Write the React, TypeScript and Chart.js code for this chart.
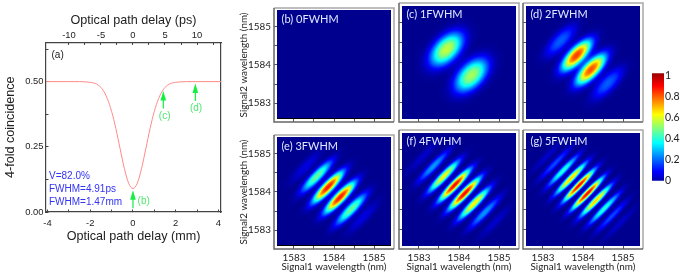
import React, { useEffect, useRef } from "react";
import { Chart, registerables } from "chart.js";
Chart.register(...registerables);

// ---------- panel (a) data ----------
const delayMm = [-4.1, -3, -2.5, -2.2, -2, -1.8, -1.6, -1.4, -1.2, -1, -0.8, -0.6, -0.4, -0.2, 0, 0.2, 0.4, 0.6, 0.8, 1, 1.2, 1.4, 1.6, 1.8, 2, 2.2, 2.5, 3, 4.15];
const coincidence = [0.5, 0.5, 0.5, 0.499, 0.497, 0.494, 0.485, 0.467, 0.435, 0.386, 0.32, 0.242, 0.166, 0.11, 0.09, 0.11, 0.166, 0.242, 0.32, 0.386, 0.435, 0.467, 0.485, 0.494, 0.497, 0.499, 0.5, 0.5, 0.5];
const arrowMm = [0, 1.42, 2.92];
const arrowTip = [0.083, 0.464, 0.493];
const arrowTail = [0.014, 0.397, 0.426];
const arrowNames = ["(b)", "(c)", "(d)"];
const statLines = ["V=82.0%", "FWHM=4.91ps", "FWHM=1.47mm"];

// ---------- panel (b)-(g) data: lobes: [signal1 nm, signal2 nm, peak] ----------
const lobesB: number[][] = [];
const lobesC = [[1583.69, 1584.33, 0.55], [1584.31, 1583.68, 0.52]];
const lobesD = [[1583.84, 1584.18, 0.8], [1584.2, 1583.825, 0.78], [1583.44, 1584.54, 0.2], [1584.62, 1583.48, 0.2]];
const lobesE = [[1583.85, 1584.13, 0.84], [1584.15, 1583.86, 0.84], [1583.57, 1584.41, 0.46], [1584.43, 1583.55, 0.46], [1583.3, 1584.67, 0.08], [1584.72, 1583.33, 0.08]];
const lobesF = [[1583.89, 1584.11, 0.86], [1584.14, 1583.9, 0.86], [1583.62, 1584.33, 0.6], [1584.38, 1583.65, 0.62], [1583.36, 1584.58, 0.26], [1584.64, 1583.42, 0.26], [1583.1, 1584.82, 0.06], [1584.9, 1583.18, 0.06]];
const lobesG = [[1583.9, 1584.1, 0.86], [1584.11, 1583.9, 0.86], [1583.7, 1584.28, 0.66], [1584.32, 1583.72, 0.66], [1583.5, 1584.47, 0.4], [1584.53, 1583.52, 0.4], [1583.3, 1584.65, 0.18], [1584.72, 1583.33, 0.18], [1583.1, 1584.83, 0.06], [1584.92, 1583.15, 0.06]];

const wavelengthTicks = [1583, 1583.5, 1584, 1584.5, 1585];
const colorbarTicks = [0, 0.2, 0.4, 0.6, 0.8, 1];
const colorbarStops = [[0, "#00008f"], [0.11, "#0000ff"], [0.36, "#00ffff"], [0.61, "#ffff00"], [0.86, "#ff0000"], [1, "#800000"]];

const panels = [
  { name: "(b) 0FWHM", lobes: lobesB, left: 277, top: 6, su: 0.3, sv: 0.12, xT: false, yT: true },
  { name: "(c) 1FWHM", lobes: lobesC, left: 402, top: 6, su: 0.35, sv: 0.2, xT: false, yT: false },
  { name: "(d) 2FWHM", lobes: lobesD, left: 526, top: 6, su: 0.34, sv: 0.13, xT: false, yT: false },
  { name: "(e) 3FWHM", lobes: lobesE, left: 277, top: 133, su: 0.36, sv: 0.086, xT: true, yT: true },
  { name: "(f) 4FWHM", lobes: lobesF, left: 402, top: 133, su: 0.37, sv: 0.068, xT: true, yT: false },
  { name: "(g) 5FWHM", lobes: lobesG, left: 526, top: 133, su: 0.37, sv: 0.054, xT: true, yT: false },
];

const PLOT_W = 114, PLOT_H = 113, PAD_L = 46, PAD_T = 4, PAD_R = 4, PAD_B = 29;
const PX_PER_NM = 40;
const LABEL_FONT = "Lato";
const ARIAL = "'Liberation Sans'";

function jet(v: number): [number, number, number] {
  const stops: [number, number, number, number][] = [
    [0, 0, 0, 143], [0.11, 0, 0, 255], [0.36, 0, 255, 255], [0.61, 255, 255, 0], [0.86, 255, 0, 0], [1, 128, 0, 0],
  ];
  for (let i = 1; i < stops.length; i++) {
    if (v <= stops[i][0]) {
      const a = stops[i - 1], b = stops[i], t = (v - a[0]) / (b[0] - a[0]);
      return [a[1] + (b[1] - a[1]) * t, a[2] + (b[2] - a[2]) * t, a[3] + (b[3] - a[3]) * t];
    }
  }
  return [128, 0, 0];
}
const LUT = Array.from({ length: 256 }, (_, i) => jet(i / 255));

function lobeSprite(peak: number, su: number, sv: number) {
  const size = Math.ceil(Math.max(su, sv) * PX_PER_NM * 8) | 1;
  const c = document.createElement("canvas");
  c.width = c.height = size;
  const g = c.getContext("2d")!;
  const img = g.createImageData(size, size);
  const ang = (46 * Math.PI) / 180;
  const cx = (size - 1) / 2;
  const ca = Math.cos(ang), sa = Math.sin(ang);
  for (let j = 0; j < size; j++) {
    for (let i = 0; i < size; i++) {
      const dx = (i - cx) / PX_PER_NM, dy = (cx - j) / PX_PER_NM;
      const u = dx * ca + dy * sa, w = -dx * sa + dy * ca;
      const val = 255 * peak * Math.exp(-Math.pow((u * u) / (2 * su * su) + (w * w) / (2 * sv * sv), 1.2));
      const k = (i + j * size) * 4;
      img.data[k] = img.data[k + 1] = img.data[k + 2] = val;
      img.data[k + 3] = 255;
    }
  }
  g.putImageData(img, 0, 0);
  return c;
}

const heatPlugin = {
  id: "heat",
  beforeDatasetsDraw(chart: any) {
    const { ctx, chartArea: a } = chart;
    ctx.save();
    ctx.fillStyle = "#000";
    ctx.fillRect(a.left, a.top, a.width, a.height);
    ctx.restore();
    ctx.globalCompositeOperation = "lighter";
  },
  afterDatasetsDraw(chart: any) {
    const { ctx, chartArea: a } = chart;
    ctx.globalCompositeOperation = "source-over";
    const img = ctx.getImageData(a.left, a.top, a.width, a.height);
    for (let k = 0; k < img.data.length; k += 4) {
      const c = LUT[img.data[k]];
      img.data[k] = c[0];
      img.data[k + 1] = c[1];
      img.data[k + 2] = c[2];
      img.data[k + 3] = 255;
    }
    ctx.putImageData(img, a.left, a.top);
  },
  afterDraw(chart: any, _args: any, opts: any) {
    const { ctx, chartArea: a } = chart;
    ctx.save();
    ctx.fillStyle = "#dfe8ff";
    ctx.font = `11px ${LABEL_FONT}`;
    ctx.textBaseline = "middle";
    ctx.fillText(opts.name, a.left + 4.5, a.top + 8.5);
    // frame
    const l = a.left - 3, r = a.right + 3, t = a.top - 3, b = a.bottom + 3;
    ctx.lineWidth = 1.5;
    ctx.strokeStyle = "#a8a8a8";
    ctx.beginPath(); ctx.moveTo(l, t); ctx.lineTo(r, t); ctx.lineTo(r, b); ctx.stroke();
    ctx.strokeStyle = "#666";
    ctx.beginPath(); ctx.moveTo(l, t); ctx.lineTo(l, b); ctx.lineTo(r, b); ctx.stroke();
    ctx.restore();
  },
};

function makeHeat(canvas: HTMLCanvasElement, p: (typeof panels)[number]) {
  return new Chart(canvas, {
    type: "scatter",
    data: {
      datasets: [{
        data: p.lobes.map((l) => ({ x: l[0], y: l[1] })),
        pointStyle: p.lobes.map((l) => lobeSprite(l[2], p.su, p.sv)) as any,
        pointRadius: 5,
      }],
    },
    options: {
      responsive: false,
      animation: false,
      events: [],
      layout: { autoPadding: false, padding: { top: PAD_T, right: PAD_R } },
      plugins: { legend: { display: false }, tooltip: { enabled: false }, heat: { name: p.name } } as any,
      scales: {
        x: {
          type: "linear",
          min: 1584 - PLOT_W / 2 / PX_PER_NM,
          max: 1584 + PLOT_W / 2 / PX_PER_NM,
          afterBuildTicks: (s: any) => { s.ticks = wavelengthTicks.map((value) => ({ value })); },
          afterFit: (s: any) => { s.height = PAD_B; },
          border: { display: false },
          grid: { drawOnChartArea: false, drawTicks: true, tickLength: 3, color: "#555", lineWidth: 1 },
          ticks: {
            display: p.xT, maxRotation: 0, autoSkip: false, padding: 2.5, color: "#222",
            font: { family: LABEL_FONT, size: 9.9 },
            callback: (v: any) => (Number.isInteger(v) ? String(v) : ""),
          },
          title: { display: p.xT, text: "Signal1 wavelength (nm)", color: "#222", font: { family: LABEL_FONT, size: 9.9 }, padding: { top: 0, bottom: 2.3 } },
        },
        y: {
          type: "linear",
          min: 1584 - PLOT_H / 2 / PX_PER_NM,
          max: 1584 + PLOT_H / 2 / PX_PER_NM,
          afterBuildTicks: (s: any) => { s.ticks = wavelengthTicks.map((value) => ({ value })); },
          afterFit: (s: any) => { s.width = PAD_L; },
          border: { display: false },
          grid: { drawOnChartArea: false, drawTicks: true, tickLength: 3, color: "#555", lineWidth: 1 },
          ticks: {
            display: p.yT, autoSkip: false, padding: 3, color: "#222",
            font: { family: LABEL_FONT, size: 9.9 },
            callback: (v: any) => (Number.isInteger(v) ? String(v) : ""),
          },
          title: { display: p.yT, text: "Signal2 wavelength (nm)", color: "#222", font: { family: LABEL_FONT, size: 9.9 }, padding: { top: 7, bottom: 0 } },
        },
      },
    } as any,
    plugins: [heatPlugin as any],
  });
}

const annotatePlugin = {
  id: "annotate",
  afterDatasetsDraw(chart: any) {
    const { ctx } = chart;
    const x = chart.scales.x, y = chart.scales.y;
    ctx.save();
    ctx.strokeStyle = "#10f040";
    ctx.fillStyle = "#10f040";
    ctx.lineWidth = 1.2;
    arrowMm.forEach((m, i) => {
      const px = x.getPixelForValue(m);
      const tip = y.getPixelForValue(arrowTip[i]);
      const tail = y.getPixelForValue(arrowTail[i]);
      ctx.beginPath(); ctx.moveTo(px, tail); ctx.lineTo(px, tip + 6); ctx.stroke();
      ctx.beginPath(); ctx.moveTo(px, tip); ctx.lineTo(px - 2.8, tip + 9.5); ctx.lineTo(px + 2.8, tip + 9.5); ctx.closePath(); ctx.fill();
    });
    ctx.font = `10px ${ARIAL}`;
    ctx.fillStyle = "#4fe870";
    ctx.textBaseline = "middle";
    ctx.textAlign = "center";
    ctx.fillText(arrowNames[0], 143.7, 201);
    ctx.fillText(arrowNames[1], 164.7, 116.7);
    ctx.fillText(arrowNames[2], 196, 108.5);
    ctx.fillStyle = "#1a1a1a";
    ctx.font = `10px ${ARIAL}`;
    ctx.textAlign = "left";
    ctx.fillText("(a)", 51.5, 55.5);
    ctx.fillStyle = "#3333f5";
    ctx.font = `10px ${ARIAL}`;
    [176.7, 189.7, 202].forEach((py, i) => ctx.fillText(statLines[i], 49, py));
    ctx.restore();
  },
};

function makeLine(canvas: HTMLCanvasElement) {
  const tickFont = { family: ARIAL, size: 9.4 };
  const titleFont = { family: ARIAL, size: 12.6 };
  return new Chart(canvas, {
    type: "line",
    data: {
      datasets: [{
        data: delayMm.map((x, i) => ({ x, y: coincidence[i] })),
        borderColor: "#ff8a8a",
        borderWidth: 1,
        pointRadius: 0,
        cubicInterpolationMode: "monotone",
        xAxisID: "x",
        yAxisID: "y",
      }],
    },
    options: {
      responsive: false,
      animation: false,
      events: [],
      layout: { autoPadding: false, padding: { right: 19 } },
      plugins: { legend: { display: false }, tooltip: { enabled: false } },
      scales: {
        x: {
          type: "linear", position: "bottom", min: -4.07, max: 4.12,
          afterBuildTicks: (s: any) => { s.ticks = [-4, -3, -2, -1, 0, 1, 2, 3, 4].map((value) => ({ value })); },
          afterFit: (s: any) => { s.height = 63; },
          border: { display: true, color: "#444", width: 1.2 },
          grid: { drawOnChartArea: false, tickLength: -2.5, color: "#444" },
          ticks: { color: "#222", font: tickFont, padding: 8, maxRotation: 0, autoSkip: false, callback: (v: any) => (v % 2 === 0 ? String(v) : "") },
          title: { display: true, text: "Optical path delay (mm)", color: "#222", font: titleFont, padding: { top: 0, bottom: 30.5 } },
        },
        x2: {
          type: "linear", position: "top", min: -4.07 * 3.336, max: 4.12 * 3.336,
          afterBuildTicks: (s: any) => { s.ticks = [-10, -7.5, -5, -2.5, 0, 2.5, 5, 7.5, 10, 12.5].map((value) => ({ value })); },
          afterFit: (s: any) => { s.height = 42.5; },
          border: { display: true, color: "#444", width: 1.2 },
          grid: { drawOnChartArea: false, tickLength: -2.5, color: "#444" },
          ticks: { color: "#222", font: tickFont, padding: 4, maxRotation: 0, autoSkip: false, callback: (v: any) => (v % 5 === 0 ? String(v) : "") },
          title: { display: true, text: "Optical path delay (ps)", color: "#222", font: titleFont, padding: { top: 12.5, bottom: 0 } },
        },
        y: {
          type: "linear", position: "left", min: 0, max: 0.65,
          afterBuildTicks: (s: any) => { s.ticks = [0, 0.125, 0.25, 0.375, 0.5, 0.625].map((value) => ({ value })); },
          afterFit: (s: any) => { s.width = 46; },
          border: { display: true, color: "#444", width: 1.2 },
          grid: { drawOnChartArea: false, tickLength: -2.5, color: "#444" },
          ticks: { color: "#222", font: tickFont, padding: 5, autoSkip: false, callback: (v: any) => ([0, 0.25, 0.5].includes(v) ? v.toFixed(2) : "") },
          title: { display: true, text: "4-fold coincidence", color: "#222", font: titleFont, padding: { top: 3.2, bottom: 0 } },
        },
        y2: {
          type: "linear", position: "right", min: 0, max: 0.65,
          afterFit: (s: any) => { s.width = 0; },
          border: { display: true, color: "#444", width: 1.2 },
          grid: { display: false },
          ticks: { display: false },
        },
      },
    } as any,
    plugins: [annotatePlugin as any],
  });
}

function makeColorbar(canvas: HTMLCanvasElement) {
  const g = canvas.getContext("2d")!;
  const grad = g.createLinearGradient(0, 118, 0, 4);
  colorbarStops.forEach(([o, c]) => grad.addColorStop(o as number, c as string));
  return new Chart(canvas, {
    type: "bar",
    data: {
      labels: ["z"],
      datasets: [{ data: [[0, 1.02]] as any, backgroundColor: grad, barPercentage: 1, categoryPercentage: 1 }],
    },
    options: {
      responsive: false,
      animation: false,
      events: [],
      layout: { autoPadding: false, padding: { top: 4, bottom: 4 } },
      plugins: { legend: { display: false }, tooltip: { enabled: false } },
      scales: {
        x: { display: false },
        y: {
          position: "right", min: 0, max: 1.02,
          afterBuildTicks: (s: any) => { s.ticks = colorbarTicks.map((value) => ({ value })); },
          afterFit: (s: any) => { s.width = 18; },
          border: { display: false },
          grid: { display: false, drawTicks: false },
          ticks: { color: "#222", font: { family: LABEL_FONT, size: 10.5 }, padding: 1, autoSkip: false, callback: (v: any) => String(v) },
        },
      },
    } as any,
  });
}

export default function App() {
  const lineRef = useRef<HTMLCanvasElement>(null);
  const barRef = useRef<HTMLCanvasElement>(null);
  const heatRefs = useRef<(HTMLCanvasElement | null)[]>([]);
  useEffect(() => {
    const charts = [
      makeLine(lineRef.current!),
      makeColorbar(barRef.current!),
      ...panels.map((p, i) => makeHeat(heatRefs.current[i]!, p)),
    ];
    return () => charts.forEach((c) => c.destroy());
  }, []);
  return (
    <div style={{ position: "fixed", left: 0, top: 0, width: 682, height: 275, background: "#fff", overflow: "hidden" }}>
      <canvas ref={lineRef} width={240} height={275} style={{ position: "absolute", left: 0, top: 0 }} />
      {panels.map((p, i) => (
        <canvas
          key={p.name}
          ref={(el) => { heatRefs.current[i] = el; }}
          width={PAD_L + PLOT_W + PAD_R}
          height={PAD_T + PLOT_H + PAD_B}
          style={{ position: "absolute", left: p.left - PAD_L, top: p.top - PAD_T }}
        />
      ))}
      <canvas ref={barRef} width={30} height={122} style={{ position: "absolute", left: 652, top: 66 }} />
    </div>
  );
}
